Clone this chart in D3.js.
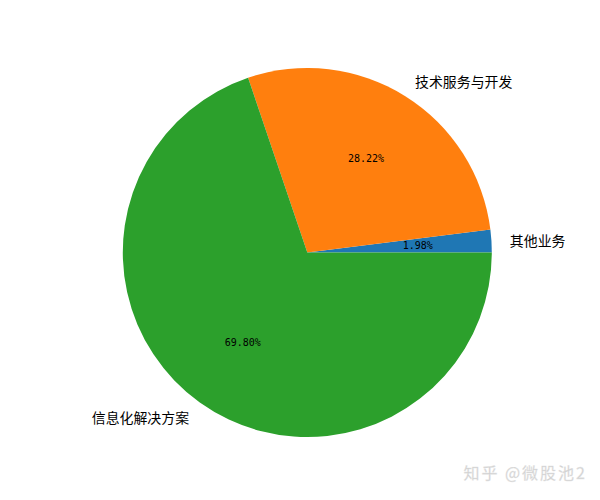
<!DOCTYPE html>
<html>
<head>
<meta charset="utf-8">
<script src="https://cdn.jsdelivr.net/npm/d3@7"></script>
<style>
  html, body { margin: 0; padding: 0; background: #fff; }
  svg { display: block; }
</style>
</head>
<body>
<svg id="chart" width="600" height="500"></svg>
<script>
const categories = ["其他业务", "技术服务与开发", "信息化解决方案"];
const values = [1.98, 28.22, 69.80];
const colors = ["#1f77b4", "#ff7f0e", "#2ca02c"];
const watermark = "知乎 @微股池2";

const W = 600, H = 500;
const cx = 307.3, cy = 252.5, R = 184.5;

const svg = d3.select("#chart");
const g = svg.append("g").attr("transform", `translate(${cx},${cy})`);

const data = categories.map((c, i) => ({ name: c, value: values[i], color: colors[i] }));

const pie = d3.pie()
  .sort(null)
  .value(d => d.value)
  .startAngle(Math.PI / 2)
  .endAngle(Math.PI / 2 - 2 * Math.PI);

const arcs = pie(data);
const arc = d3.arc().innerRadius(0).outerRadius(R);
const labelArc = d3.arc().innerRadius(R * 1.1).outerRadius(R * 1.1);
const pctArc = d3.arc().innerRadius(R * 0.6).outerRadius(R * 0.6);

g.selectAll("path.slice")
  .data(arcs)
  .join("path")
  .attr("class", "slice")
  .attr("d", arc)
  .attr("fill", d => d.data.color);

const fmt = d3.format(".2f");

g.selectAll("text.label")
  .data(arcs)
  .join("text")
  .attr("class", "label")
  .attr("x", d => labelArc.centroid(d)[0])
  .attr("y", d => labelArc.centroid(d)[1])
  .attr("text-anchor", d => labelArc.centroid(d)[0] >= 0 ? "start" : "end")
  .attr("dominant-baseline", "central")
  .attr("font-family", "'Noto Sans CJK SC', sans-serif")
  .attr("font-size", "13.9px")
  .attr("fill", "#000")
  .text(d => d.data.name);

g.selectAll("text.pct")
  .data(arcs)
  .join("text")
  .attr("class", "pct")
  .attr("x", d => pctArc.centroid(d)[0])
  .attr("y", d => pctArc.centroid(d)[1])
  .attr("text-anchor", "middle")
  .attr("dominant-baseline", "central")
  .attr("font-family", "'DejaVu Sans Mono', monospace")
  .attr("font-size", "10px")
  .attr("fill", "#000")
  .text(d => fmt(d.data.value) + "%");

svg.append("text")
  .attr("x", 587)
  .attr("y", 479)
  .attr("text-anchor", "end")
  .attr("font-family", "'Noto Sans CJK SC', sans-serif")
  .attr("font-size", "16px")
  .attr("letter-spacing", "2px")
  .attr("fill", "#d0d0d0")
  .attr("stroke", "#e8e8e8")
  .attr("stroke-width", 0.3)
  .text(watermark);
</script>
</body>
</html>
